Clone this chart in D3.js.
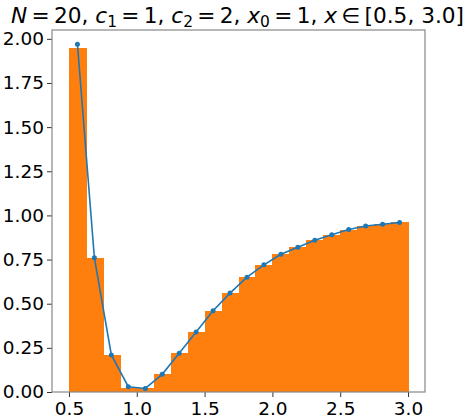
<!DOCTYPE html>
<html><head><meta charset="utf-8">
<script src="https://cdn.jsdelivr.net/npm/d3@7"></script>
<style>body{margin:0;background:#fff}text{font-family:"DejaVu Sans",sans-serif}</style>
</head><body><div id="chart"></div>
<script>
const binLefts = [0.5,0.625,0.75,0.875,1.0,1.125,1.25,1.375,1.5,1.625,1.75,1.875,2.0,2.125,2.25,2.375,2.5,2.625,2.75,2.875];
const binWidth = 0.125;
const barValues = [1.95,0.76,0.21,0.02,0.02,0.10,0.22,0.34,0.46,0.56,0.65,0.72,0.78,0.82,0.86,0.89,0.92,0.94,0.95,0.96];
const pointX = [0.5625,0.6875,0.8125,0.9375,1.0625,1.1875,1.3125,1.4375,1.5625,1.6875,1.8125,1.9375,2.0625,2.1875,2.3125,2.4375,2.5625,2.6875,2.8125,2.9375];
const pointY = [1.97,0.76,0.21,0.03,0.02,0.10,0.22,0.34,0.46,0.56,0.65,0.72,0.78,0.82,0.86,0.89,0.92,0.94,0.95,0.96];
const xTicks = [0.5,1.0,1.5,2.0,2.5,3.0];
const yTicks = [0,0.25,0.5,0.75,1.0,1.25,1.5,1.75,2.0];

const width = 474, height = 420;
const m = {left: 52, right: 49, top: 30, bottom: 28};
const svg = d3.select('#chart').append('svg').attr('width', width).attr('height', height);
const x = d3.scaleLinear().domain([0.375, 3.125]).range([m.left, width - m.right]);
const y = d3.scaleLinear().domain([0, 2.05]).range([height - m.bottom, m.top]);

svg.selectAll('rect.bar').data(barValues).enter().append('rect')
	.attr('class', 'bar')
	.attr('fill', '#ff7f0e')
	.attr('shape-rendering', 'crispEdges')
	.attr('x', (d, i) => x(binLefts[i]))
	.attr('width', (d, i) => x(binLefts[i] + binWidth) - x(binLefts[i]) + 1)
	.attr('y', d => y(d))
	.attr('height', d => y(0) - y(d));

const pts = pointX.map((v, i) => [v, pointY[i]]);
svg.append('path').datum(pts)
	.attr('fill', 'none').attr('stroke', '#1f77b4').attr('stroke-width', 1.6)
	.attr('d', d3.line().x(d => x(d[0])).y(d => y(d[1])));
svg.selectAll('circle').data(pts).enter().append('circle')
	.attr('cx', d => x(d[0])).attr('cy', d => y(d[1])).attr('r', 2.5).attr('fill', '#1f77b4');

const xAxis = svg.append('g').attr('transform', `translate(0,${height - m.bottom})`)
	.call(d3.axisBottom(x).tickValues(xTicks).tickFormat(d3.format('.1f')).tickSizeOuter(0).tickSize(5));
const yAxis = svg.append('g').attr('transform', `translate(${m.left},0)`)
	.call(d3.axisLeft(y).tickValues(yTicks).tickFormat(d3.format('.2f')).tickSizeOuter(0).tickSize(5));
[xAxis, yAxis].forEach(g => {
	g.select('.domain').remove();
	g.selectAll('text').attr('font-size', 18.5).attr('fill', '#000').attr('font-family', '"DejaVu Sans"');
	g.selectAll('line').attr('stroke', '#333');
});
xAxis.selectAll('text').attr('dy', '0.8em');

svg.append('rect').attr('x', m.left).attr('y', m.top)
	.attr('width', width - m.left - m.right).attr('height', height - m.top - m.bottom)
	.attr('fill', 'none').attr('stroke', '#888').attr('stroke-width', 1.2);

const t = svg.append('text').attr('x', 11).attr('y', 23)
	.attr('font-size', 21).attr('textLength', 453).attr('lengthAdjust', 'spacingAndGlyphs');
const parts = [['N','i'],['\u2009=\u200920, ',''],['c','i'],['1','s'],['\u2009=\u20091, ','b'],['c','i'],['2','s'],['\u2009=\u20092, ','b'],['x','i'],['0','s'],['\u2009=\u20091, ','b'],['x','i'],['\u2009∈\u2009[0.5, 3.0]','']];
parts.forEach(([s, k]) => {
	const ts = t.append('tspan').text(s);
	if (k === 'i') ts.attr('font-style', 'italic');
	if (k === 's') ts.attr('font-size', 15).attr('dy', 4);
	if (k === 'b') ts.attr('dy', -4);
});
</script></body></html>
